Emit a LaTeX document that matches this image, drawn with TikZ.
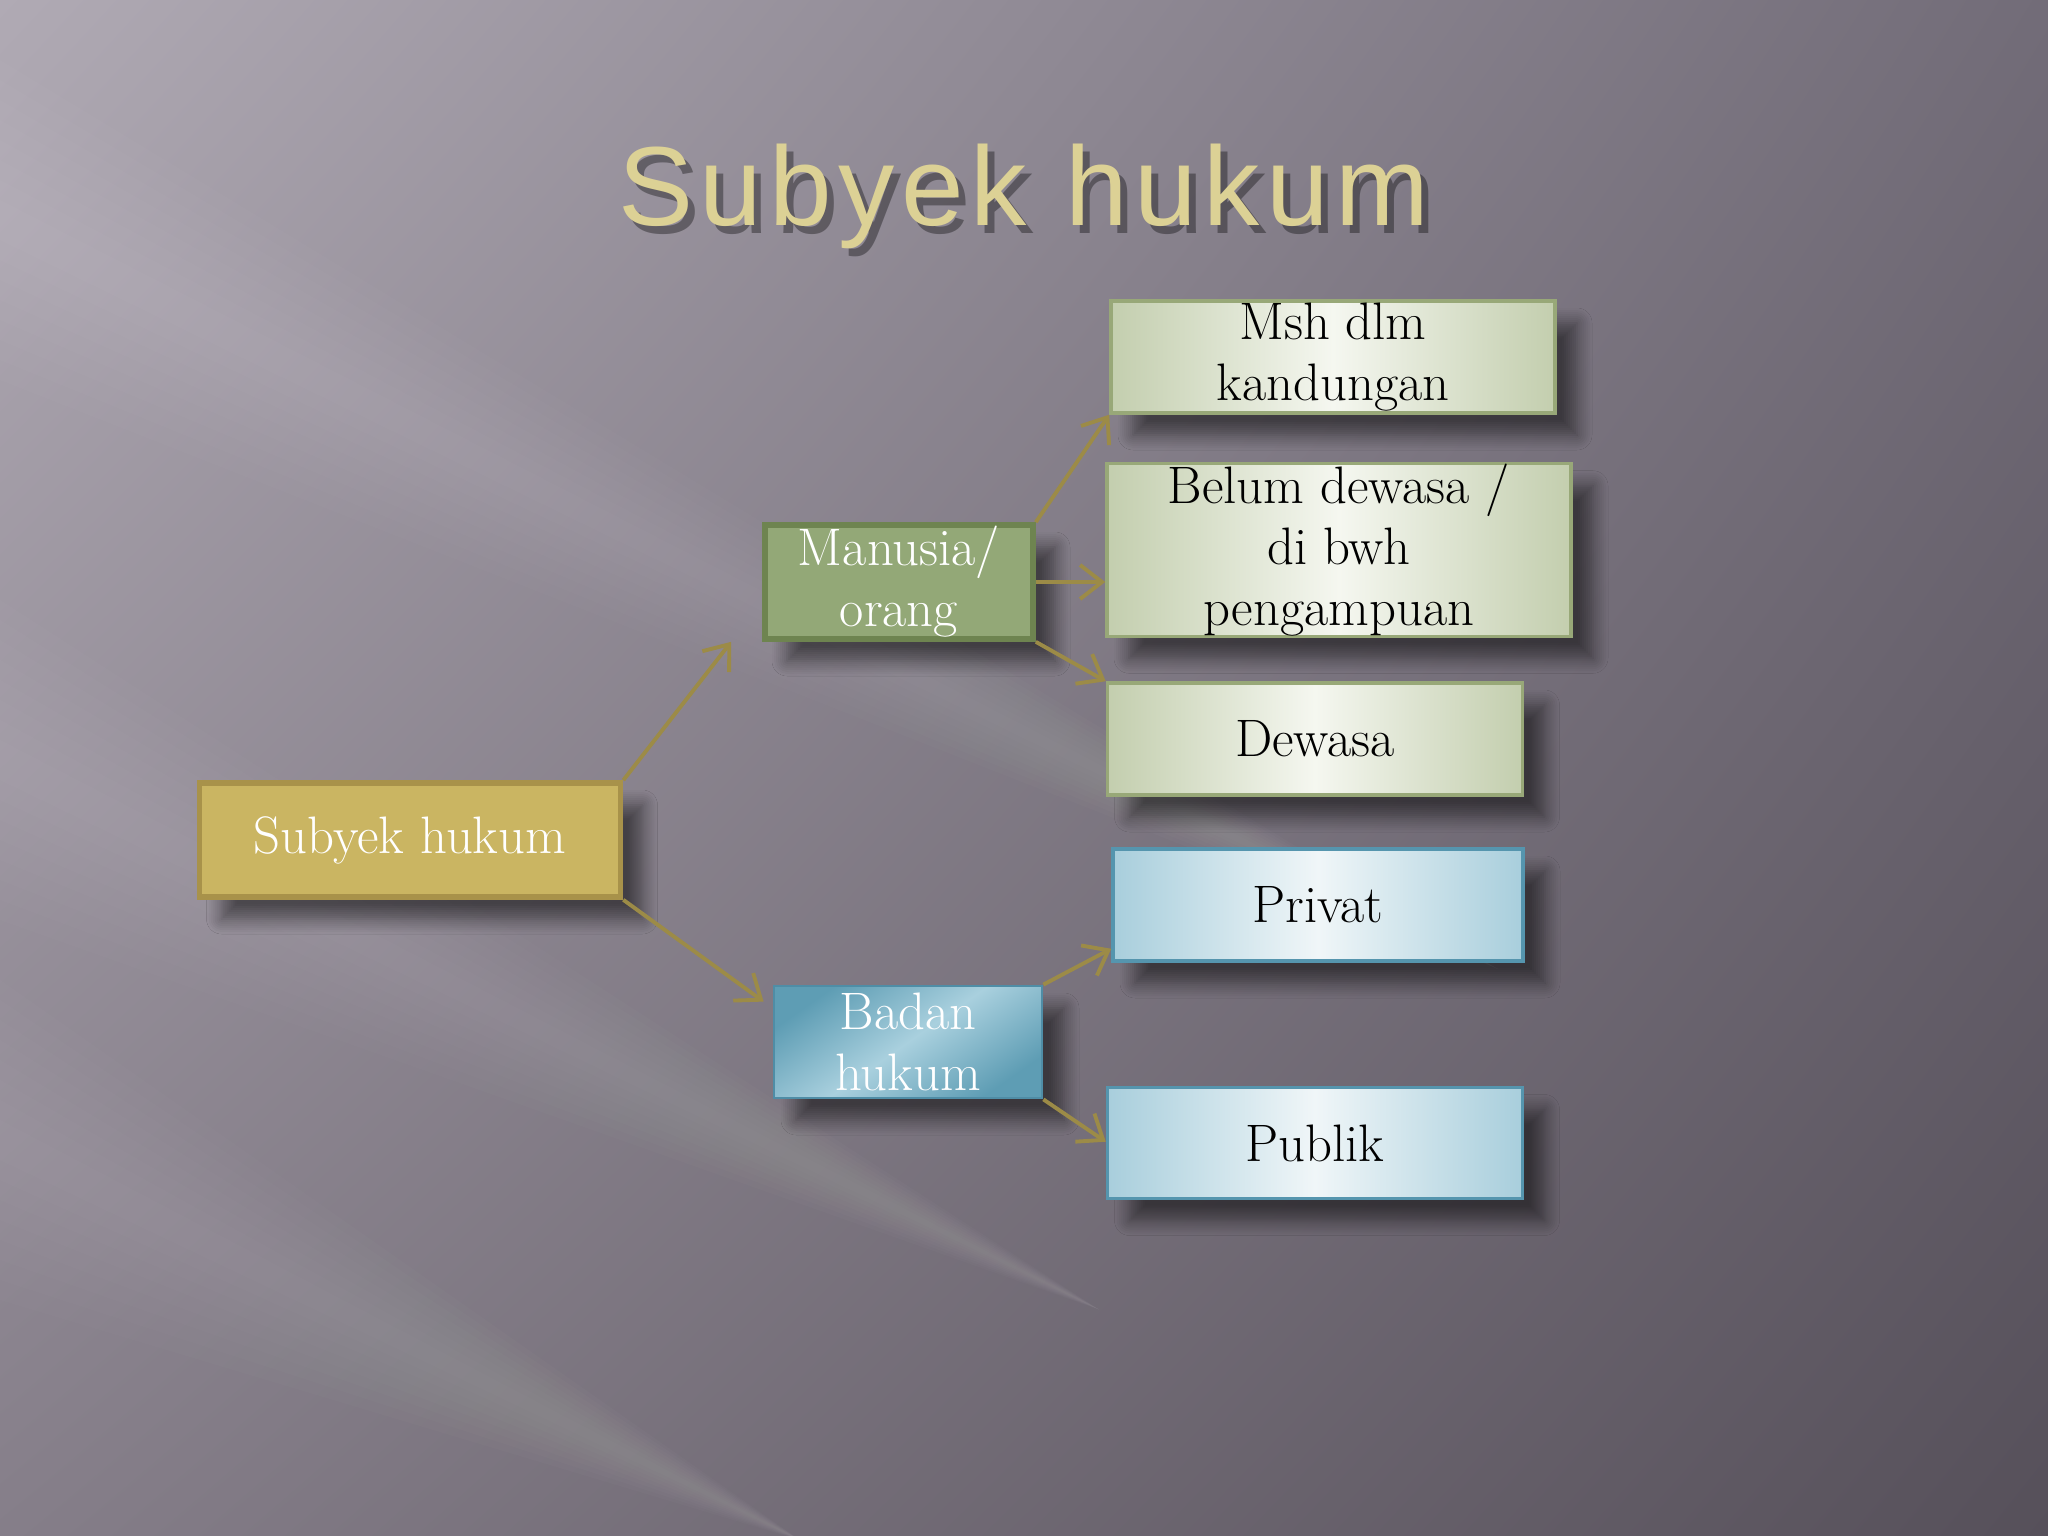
\documentclass[tikz,border=0pt]{standalone}
\usepackage{fontspec}
\newfontfamily\judulfont[LetterSpace=6]{Liberation Sans}
\usetikzlibrary{positioning, arrows.meta, shadows.blur, shadings}

\tikzset{
    kotak/.style={draw, inner sep=0pt, align=center,
        font=\fontsize{15}{17.4}\selectfont,
        blur shadow={shadow xshift=0.22cm, shadow yshift=-0.22cm,
            shadow opacity=50, shadow blur steps=8, shadow blur radius=0.15cm}},
    induk/.style={kotak, text=white},
    hijau/.style={kotak, line width=1pt, draw=hijauTepi,
        left color=hijauMuda, right color=hijauMuda, middle color=hijauTengah},
    biru/.style={kotak, line width=1pt, draw=biruTepi,
        left color=biruMuda, right color=biruMuda, middle color=biruTengah},
    panah/.style={draw=panahWarna, line width=1.1pt,
        -{Straight Barb[length=2.2mm, width=3.4mm]}},
}

\begin{document}
\begin{tikzpicture}

        % Warna
        \definecolor{latarA}{HTML}{B0AAB4}
        \definecolor{latarB}{HTML}{726C78}
        \definecolor{latarC}{HTML}{857E89}
        \definecolor{latarD}{HTML}{56505A}
        \definecolor{emas}{HTML}{CAB562}
        \definecolor{emasTepi}{HTML}{A8924A}
        \definecolor{hijauTua}{HTML}{93A877}
        \definecolor{hijauTuaTepi}{HTML}{6E8450}
        \definecolor{badanGelap}{HTML}{5E9DB4}
        \definecolor{badanTerang}{HTML}{A9D0DE}
        \definecolor{badanTepi}{HTML}{4F8DA6}
        \definecolor{hijauMuda}{HTML}{C3CEAE}
        \definecolor{hijauTengah}{HTML}{F5F7F0}
        \definecolor{hijauTepi}{HTML}{98A878}
        \definecolor{biruMuda}{HTML}{A8CEDC}
        \definecolor{biruTengah}{HTML}{F0F6F8}
        \definecolor{biruTepi}{HTML}{5595AE}
        \definecolor{panahWarna}{HTML}{9C8B47}
        \definecolor{judulWarna}{HTML}{DCD195}

        % Latar belakang
        \useasboundingbox (0,0) rectangle (20.48,-15.36);
        \shade[upper left=latarA, upper right=latarB, lower left=latarC, lower right=latarD]
            (0,0) rectangle (20.48,-15.36);

        % Berkas cahaya miring, lembut
        \foreach \ya/\xb/\yb in {-2.2/15/-9.7, -7.6/11/-13.1, -11.4/8/-15.4} {
            \foreach \w in {0.2,0.4,...,1.6} {
                \fill[white, opacity=0.014] (0,\ya+\w) -- (0,\ya-\w) -- (\xb,\yb) -- cycle;
            }
        }

        % Judul
        \node[text=black, opacity=0.35, font=\judulfont\fontsize{32}{36}\selectfont]
            (judulBayang) at (10.31,-2.04) {Subyek hukum};
        \node[text=judulWarna, font=\judulfont\fontsize{32}{36}\selectfont]
            (judul) at (10.24,-1.96) {Subyek hukum};

        % Kotak induk
        \node[induk, line width=1.6pt, draw=emasTepi, fill=emas,
            minimum width=4.21cm, minimum height=1.14cm] (sh) at (4.10,-8.40) {Subyek hukum};
        \node[induk, line width=1.6pt, draw=hijauTuaTepi, fill=hijauTua,
            minimum width=2.68cm, minimum height=1.14cm] (man) at (8.99,-5.82) {Manusia/\\orang};
        \node[induk, line width=0.8pt, draw=badanTepi, left color=badanGelap, right color=badanGelap,
            middle color=badanTerang, shading angle=35,
            minimum width=2.68cm, minimum height=1.12cm] (bad) at (9.08,-10.42) {Badan\\hukum};

        % Kotak cabang
        \node[hijau, minimum width=4.44cm, minimum height=1.12cm] (msh) at (13.33,-3.57) {Msh dlm\\kandungan};
        \node[hijau, minimum width=4.64cm, minimum height=1.11cm] (bel) at (13.39,-5.50) {Belum dewasa /\\di bwh\\pengampuan};
        \node[hijau, minimum width=4.15cm, minimum height=1.12cm] (dew) at (13.15,-7.39) {Dewasa};
        \node[biru, minimum width=4.10cm, minimum height=1.12cm] (pri) at (13.18,-9.05) {Privat};
        \node[biru, minimum width=4.15cm, minimum height=1.11cm] (pub) at (13.15,-11.43) {Publik};

        % Panah
        \draw[panah] (sh.north east) -- ([xshift=-0.31cm]man.south west);
        \draw[panah] (sh.south east) -- ([xshift=-0.09cm, yshift=-0.17cm]bad.north west);
        \draw[panah] (man.north east) -- (msh.south west);
        \draw[panah] (man.east) -- (bel.west |- man.east);
        \draw[panah] (man.south east) -- (dew.north west);
        \draw[panah] (bad.north east) -- ([yshift=0.14cm]pri.south west);
        \draw[panah] (bad.south east) -- ([yshift=-0.56cm]pub.north west);

\end{tikzpicture}
\end{document}
